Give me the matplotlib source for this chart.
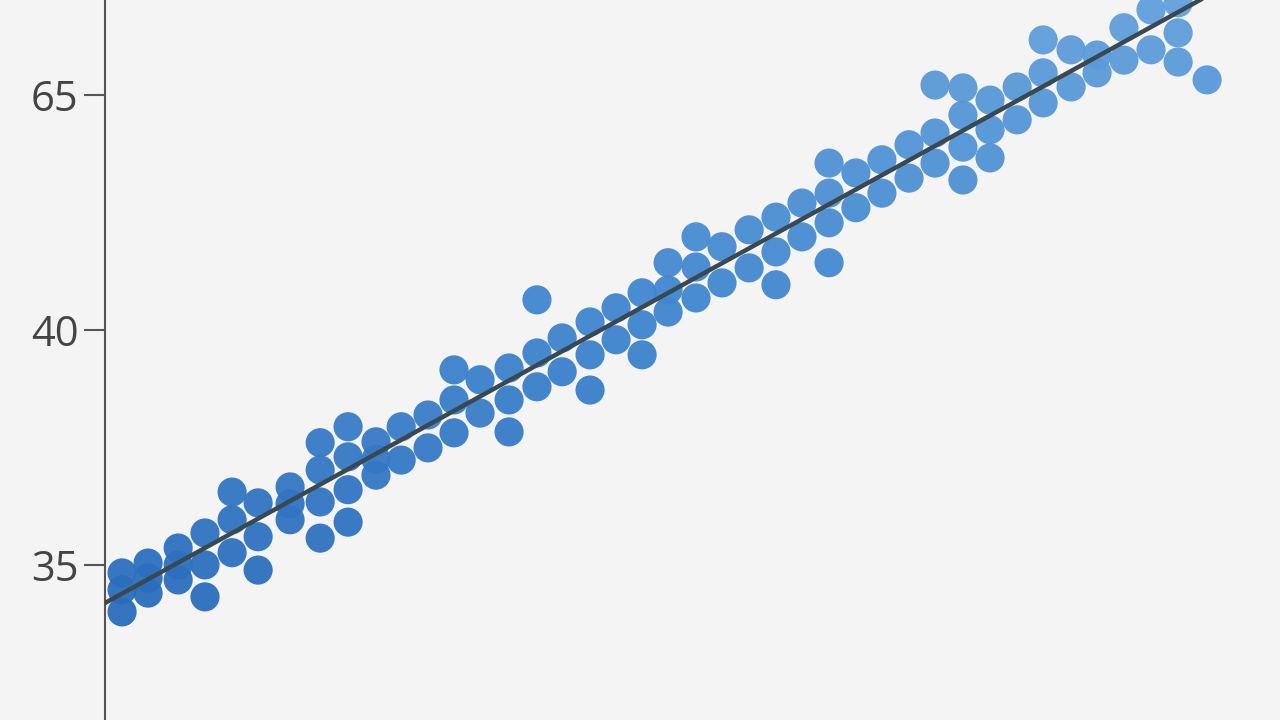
import numpy as np
import matplotlib.pyplot as plt
from matplotlib.colors import LinearSegmentedColormap

# x position of each column of points
col_x = [0.00, 0.96, 2.07, 3.06, 4.06, 5.02, 6.20, 7.31, 8.34, 9.37,
         10.30, 11.29, 12.25, 13.21, 14.28, 15.31, 16.24, 17.27, 18.23, 19.19,
         20.15, 21.18, 22.14, 23.14, 24.13, 25.09, 26.09, 27.08, 28.04, 29.04,
         30.00, 31.03, 32.03, 33.03, 33.99, 35.02, 35.98, 36.97, 37.97, 38.97,
         40.04]

# y values of the points in each column
col_y = [
    [34.83, 34.47, 34.00],
    [35.04, 34.72, 34.40],
    [35.36, 35.00, 34.68],
    [35.68, 35.00, 34.32],
    [36.55, 35.96, 35.26],
    [36.32, 35.60, 34.89],
    [36.66, 36.30, 35.96],
    [37.60, 37.02, 36.34, 35.57],
    [37.94, 37.30, 36.60, 35.91],
    [37.62, 37.25, 36.91],
    [37.94, 37.23],
    [38.19, 37.49],
    [39.15, 38.51, 37.81],
    [38.94, 38.23],
    [39.19, 38.51, 37.83],
    [40.64, 39.51, 38.79],
    [39.83, 39.11],
    [40.17, 39.47, 38.72],
    [40.47, 39.79],
    [40.79, 40.11, 39.47],
    [41.43, 40.85, 40.38],
    [41.98, 41.34, 40.68],
    [41.77, 41.00],
    [42.13, 41.32],
    [42.40, 41.66, 40.96],
    [42.70, 41.98],
    [43.55, 42.91, 42.28, 41.43],
    [43.34, 42.60],
    [43.62, 42.91],
    [43.94, 43.23],
    [45.21, 44.19, 43.55],
    [45.15, 44.57, 43.89, 43.19],
    [44.89, 44.26, 43.66],
    [45.17, 44.47],
    [46.17, 45.47, 44.83],
    [45.96, 45.17],
    [45.85, 45.47],
    [46.43, 45.74],
    [46.81, 45.96],
    [46.96, 46.32, 45.70],
    [45.32],
]

# trend line
trend_intercept = 34.39
trend_slope = 0.3175

y_ticks = [35, 40, 45]
y_tick_labels = ['35', '40', '65']

x = np.concatenate([[cx] * len(ys) for cx, ys in zip(col_x, col_y)])
y = np.concatenate([np.array(ys) for ys in col_y])

bg = '#f4f4f4'
cmap = LinearSegmentedColormap.from_list('blues', ['#2a6cbc', '#3f86cf', '#62a0dc'])

fig = plt.figure(figsize=(12.8, 7.2), dpi=100, facecolor=bg)
ax = fig.add_axes([105 / 1280, 0, 1 - 105 / 1280, 1])
ax.set_facecolor(bg)

ax.scatter(x, y, s=440, c=y, cmap=cmap, vmin=34, vmax=47,
           alpha=0.95, linewidths=0, zorder=2)

line_x = np.array([-1, 43])
ax.plot(line_x, trend_intercept + trend_slope * line_x,
        color='#3a4852', linewidth=3.2, solid_capstyle='round', zorder=3)

ax.set_xlim(-0.63, 42.73)
ax.set_ylim(31.70, 47.02)

ax.set_yticks(y_ticks)
ax.set_yticklabels(y_tick_labels, fontfamily='Open Sans', fontsize=30, color='#444444')
ax.tick_params(axis='y', length=15, width=1.5, color='#555555', pad=4)
ax.set_xticks([])

for side in ['top', 'right', 'bottom']:
    ax.spines[side].set_visible(False)
ax.spines['left'].set_color('#555555')
ax.spines['left'].set_linewidth(1.5)

fig.savefig('out.png', dpi=100, facecolor=bg)
